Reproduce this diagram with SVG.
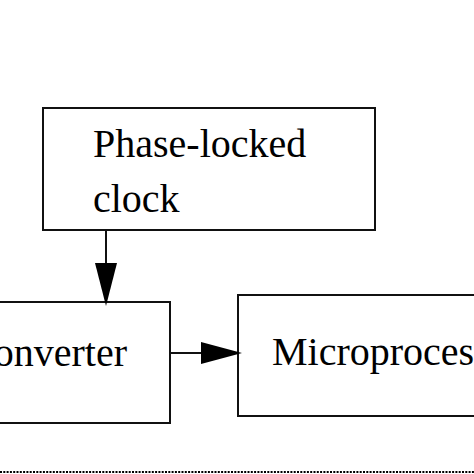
<svg xmlns="http://www.w3.org/2000/svg" width="474" height="474" viewBox="0 0 474 474">
<style>
.box{fill:#fff;stroke:#111;stroke-width:2}
.lbl{font-family:"Liberation Serif","Times New Roman",serif;font-size:40px;fill:#000}
.line{stroke:#111;stroke-width:2;fill:none}
.head{fill:#000}
</style>
<rect width="474" height="474" fill="#fff"/>
<g id="pll">
<rect class="box" x="43" y="108" width="332" height="122"/>
<text class="lbl" x="93" y="157">Phase-locked</text>
<text class="lbl" x="93" y="212">clock</text>
</g>
<g id="converter">
<rect class="box" x="-4" y="302" width="174" height="121"/>
<text class="lbl" x="127" y="366" text-anchor="end">onverter</text>
</g>
<g id="microprocessor">
<rect class="box" x="238" y="295" width="240" height="121"/>
<text class="lbl" x="272" y="365">Microproces</text>
</g>
<g id="connectors">
<line class="line" x1="106" y1="230" x2="106" y2="266"/>
<polygon class="head" points="95,263 117,263 106,306"/>
<line class="line" x1="170" y1="353" x2="203" y2="353"/>
<polygon class="head" points="201,342 201,364 242,353"/>
</g>
<line x1="0" y1="472" x2="474" y2="472" stroke="#000" stroke-width="2" stroke-dasharray="2 1.3"/>
</svg>
